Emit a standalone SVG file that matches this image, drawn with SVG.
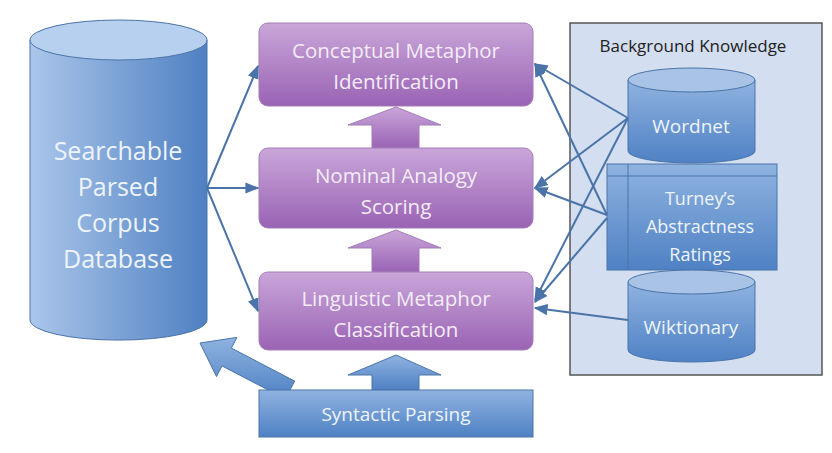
<svg xmlns="http://www.w3.org/2000/svg" width="832" height="453" viewBox="0 0 832 453">
<defs>
<linearGradient id="pg" x1="0" y1="0" x2="0" y2="1"><stop offset="0" stop-color="#c9a6d9"/><stop offset="1" stop-color="#9a63b4"/></linearGradient>
<linearGradient id="bg" x1="0" y1="0" x2="0" y2="1"><stop offset="0" stop-color="#8fb3e0"/><stop offset="1" stop-color="#4f81c4"/></linearGradient>
<linearGradient id="cg" x1="0" y1="0" x2="1" y2="0"><stop offset="0" stop-color="#aac6ea"/><stop offset="1" stop-color="#4f80c2"/></linearGradient>
<marker id="ah" viewBox="0 0 10 10" refX="9" refY="5" markerWidth="7" markerHeight="7" orient="auto"><path d="M0,1 L10,5 L0,9 Z" fill="#4a74a8"/></marker>
<style>
.pb{fill:url(#pg);stroke:#a27cb8;stroke-width:1}
.pt{font-family:"Open Sans","Liberation Sans",sans-serif;font-size:20.5px;fill:#f3ecf7;text-anchor:middle}
.bt{font-family:"Open Sans","Liberation Sans",sans-serif;font-size:19px;fill:#eef4fb;text-anchor:middle}
.cy{fill:url(#bg);stroke:#4a74a8;stroke-width:1}
.top{fill:#a9c3e6;stroke:#4a74a8;stroke-width:1}
.ln{stroke:#4a74a8;stroke-width:2;fill:none;marker-end:url(#ah)}
.pa{fill:url(#pg);stroke:#a27cb8}
</style>
</defs>
<rect width="832" height="453" fill="#fff"/>
<g id="bk"><rect x="570" y="23" width="252" height="352" fill="#d3def0" stroke="#555" stroke-width="1.5"/>
<text x="693" y="52" font-family="Open Sans,Liberation Sans,sans-serif" font-size="17" fill="#222" text-anchor="middle">Background Knowledge</text></g>
<g id="corpus"><path d="M30,40 V320 A88,20 0 0 0 207,320 V40 Z" fill="url(#cg)" stroke="#4a74a8"/><ellipse cx="118.5" cy="40" rx="88.5" ry="20" fill="#b8d0ef" stroke="#4a74a8"/>
<text class="bt" x="118" y="160" style="font-size:25px">Searchable</text><text class="bt" x="118" y="196" style="font-size:25px">Parsed</text><text class="bt" x="118" y="232" style="font-size:25px">Corpus</text><text class="bt" x="118" y="268" style="font-size:25px">Database</text></g>
<g id="arrows-big">
<path class="pa" d="M372,148 V125 H348 L396,107 L441,125 H419 V148 Z"/>
<path class="pa" d="M372,272 V248 H348 L396,230 L441,248 H419 V272 Z"/>
<path d="M372,390 V375 H348 L396,355 L441,375 H419 V390 Z" fill="url(#bg)" stroke="#4a74a8"/>
<path d="M294.7,381.1 L231.4,348.1 L236.9,337.4 L200,343 L216.5,376.6 L222,365.9 L285.3,398.9 Z" fill="url(#bg)" stroke="#4a74a8"/>
</g>
<g id="cmi"><rect class="pb" x="259" y="23" width="274" height="83" rx="9"/><text class="pt" x="396" y="58">Conceptual Metaphor</text><text class="pt" x="396" y="89">Identification</text></g>
<g id="nas"><rect class="pb" x="259" y="148" width="274" height="80" rx="9"/><text class="pt" x="396" y="183">Nominal Analogy</text><text class="pt" x="396" y="214">Scoring</text></g>
<g id="lmc"><rect class="pb" x="259" y="272" width="274" height="78" rx="9"/><text class="pt" x="396" y="306">Linguistic Metaphor</text><text class="pt" x="396" y="337">Classification</text></g>
<g id="sp"><rect x="259" y="390" width="274" height="47" fill="url(#bg)" stroke="#4a74a8"/><text class="bt" x="396" y="421">Syntactic Parsing</text></g>
<g id="wordnet"><path class="cy" d="M628,80 V151 A63.5,12 0 0 0 755,151 V80 Z"/><ellipse class="top" cx="691.5" cy="80" rx="63.5" ry="12"/><text class="bt" x="691" y="133">Wordnet</text></g>
<g id="turney"><rect x="607" y="164" width="170" height="106" fill="url(#bg)" stroke="#4a74a8"/><line x1="607" y1="176" x2="777" y2="176" stroke="#4a74a8"/><line x1="628" y1="164" x2="628" y2="270" stroke="#4a74a8"/>
<text class="bt" x="700" y="205" style="font-size:18px">Turney’s</text><text class="bt" x="700" y="233" style="font-size:18px">Abstractness</text><text class="bt" x="700" y="261" style="font-size:18px">Ratings</text></g>
<g id="wiktionary"><path class="cy" d="M628,282 V350 A63.5,12 0 0 0 755,350 V282 Z"/><ellipse class="top" cx="691.5" cy="282" rx="63.5" ry="12"/><text class="bt" x="691" y="334">Wiktionary</text></g>
<g id="connectors">
<path class="ln" d="M207,188 L258,66"/><path class="ln" d="M207,188 L258,188"/><path class="ln" d="M207,188 L258,311"/>
<path class="ln" d="M628,118 L535,64"/><path class="ln" d="M607,215 L535,64"/>
<path class="ln" d="M628,118 L535,188"/><path class="ln" d="M607,215 L535,188"/>
<path class="ln" d="M628,118 L535,300"/><path class="ln" d="M607,218 L535,302"/><path class="ln" d="M628,320 L535,308"/>
</g>
</svg>
